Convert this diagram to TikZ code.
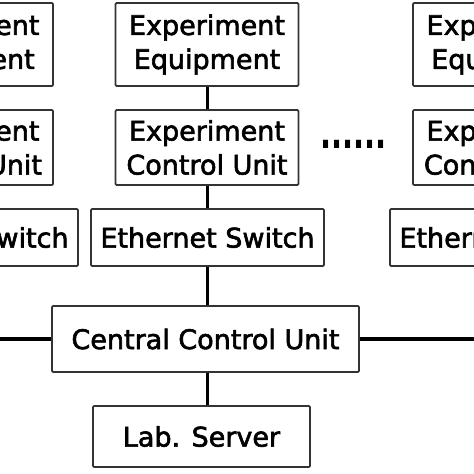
\documentclass[tikz,border=0pt]{standalone}
\usepackage{fontspec}
\setmainfont{DejaVu Sans}[FakeBold=2.2]
\newfontfamily\dotfont{DejaVu Sans Bold}
\begin{document}
\begin{tikzpicture}[x=1pt,y=-1pt,
  box/.style={draw=black!80, line width=1.8pt, rounded corners=1.2pt, fill=white, align=center,
    font=\fontsize{27}{34}\selectfont, inner sep=0pt},
  link/.style={line width=3pt, black},
  hlink/.style={line width=4.2pt, black}]
\useasboundingbox (0,0) rectangle (474,474);
% left column (cut off)
\node[box, minimum width=183pt, minimum height=83pt] (eq1) at (-38.5,44.5) {Experiment\\Equipment};
\node[box, minimum width=183pt, minimum height=75pt] (cu1) at (-38.5,147.5) {Experiment\\Control Unit};
\node[box, minimum width=233pt, minimum height=57pt] (es1) at (-38.5,237.5) {Ethernet Switch};
% middle column
\node[box, minimum width=183pt, minimum height=83pt] (eq2) at (207,44.5) {Experiment\\Equipment};
\node[box, minimum width=183pt, minimum height=75pt] (cu2) at (207,147.5) {Experiment\\Control Unit};
\node[box, minimum width=233pt, minimum height=57pt] (es2) at (207.5,237.5) {Ethernet Switch};
% right column (cut off)
\node[box, minimum width=183pt, minimum height=83pt] (eq3) at (504.5,44.5) {Experiment\\Equipment};
\node[box, minimum width=183pt, minimum height=75pt] (cu3) at (504.5,147.5) {Experiment\\Control Unit};
\node[box, minimum width=233pt, minimum height=57pt] (es3) at (506.5,237.5) {Ethernet Switch};
% dots
\node[font=\fontsize{29}{34}\dotfont, inner sep=0pt] (dots) at (353.5,144) {\scalebox{1}[1.5]{......}};
% central
\node[box, minimum width=307pt, minimum height=66pt] (cc) at (205.5,339) {Central Control Unit};
\node[box, minimum width=217pt, minimum height=61pt] (lab) at (201.5,436.5) {Lab. Server};
\coordinate (lend) at (0,339);
\coordinate (rend) at (474,339);
% connectors
\draw[link] (eq2.south) -- (cu2.north);
\draw[link] (cu2.south) -- (cu2.south |- es2.north);
\draw[link] (es2.south) -- (es2.south |- cc.north);
\draw[link] (cc.south -| es2.south) -- (es2.south |- lab.north);
\draw[hlink] (cc.west) -- (lend);
\draw[hlink] (cc.east) -- (rend);
\end{tikzpicture}
\end{document}
